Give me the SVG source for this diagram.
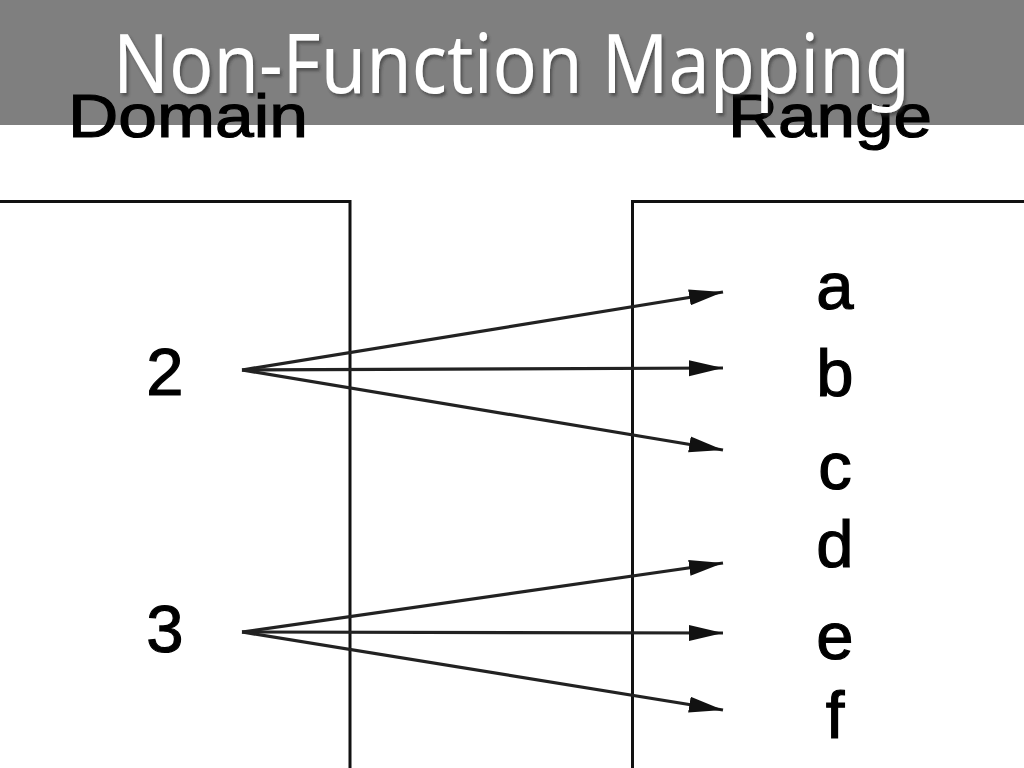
<svg xmlns="http://www.w3.org/2000/svg" width="1024" height="768" viewBox="0 0 1024 768">
<defs>
<style>
.lbl{font-family:"Liberation Sans",Arial,sans-serif;fill:#000;stroke:#000;stroke-width:1.2;}
.conn{stroke:#222;stroke-width:3.2;fill:none;}
.box{stroke:#111;stroke-width:3;fill:none;}
.title{font-family:"Noto Sans","Open Sans",sans-serif;font-size:82px;fill:#fff;}
</style>
<filter id="shadow" x="-5%" y="-20%" width="110%" height="140%">
<feDropShadow dx="2" dy="3" stdDeviation="1.5" flood-color="#333" flood-opacity="0.6"/>
</filter>
<marker id="arr" markerUnits="userSpaceOnUse" markerWidth="36" markerHeight="18" refX="34" refY="9" orient="auto">
<path d="M0,1 L34,9 L0,17 Z" fill="#111"/>
</marker>
</defs>
<rect x="0" y="0" width="1024" height="768" fill="#fff"/>
<g id="domain-box"><path class="box" d="M0,201.5 H350 V768"/></g>
<g id="range-box"><path class="box" d="M1024,201.5 H632.5 V768"/></g>
<g id="connectors">
<line class="conn" x1="242" y1="370" x2="723" y2="292" marker-end="url(#arr)"/>
<line class="conn" x1="242" y1="370" x2="723" y2="368" marker-end="url(#arr)" stroke="#555"/>
<line class="conn" x1="242" y1="370" x2="723" y2="450" marker-end="url(#arr)"/>
<line class="conn" x1="242" y1="632" x2="723" y2="563" marker-end="url(#arr)"/>
<line class="conn" x1="242" y1="632" x2="723" y2="633" marker-end="url(#arr)" stroke="#555"/>
<line class="conn" x1="242" y1="632" x2="723" y2="710" marker-end="url(#arr)"/>
</g>
<g id="node-2"><text class="lbl" x="165" y="395" font-size="67" text-anchor="middle">2</text></g>
<g id="node-3"><text class="lbl" x="165" y="652" font-size="67" text-anchor="middle">3</text></g>
<g id="node-a"><text class="lbl" x="835" y="309" font-size="67" text-anchor="middle">a</text></g>
<g id="node-b"><text class="lbl" x="835" y="396" font-size="67" text-anchor="middle">b</text></g>
<g id="node-c"><text class="lbl" x="835" y="489" font-size="67" text-anchor="middle">c</text></g>
<g id="node-d"><text class="lbl" x="835" y="567" font-size="67" text-anchor="middle">d</text></g>
<g id="node-e"><text class="lbl" x="835" y="659" font-size="67" text-anchor="middle">e</text></g>
<g id="node-f"><text class="lbl" x="835" y="738" font-size="67" text-anchor="middle">f</text></g>
<rect x="0" y="0" width="1024" height="125" fill="#7f7f7f"/>
<g id="domain-label"><text class="lbl" x="68" y="137" font-size="62" textLength="240" lengthAdjust="spacingAndGlyphs">Domain</text></g>
<g id="range-label"><text class="lbl" x="728" y="137" font-size="62" textLength="204" lengthAdjust="spacingAndGlyphs">Range</text></g>
<g id="title">
<text class="title" x="113" y="93" textLength="797" lengthAdjust="spacingAndGlyphs" filter="url(#shadow)">Non-Function Mapping</text>
</g>
</svg>
